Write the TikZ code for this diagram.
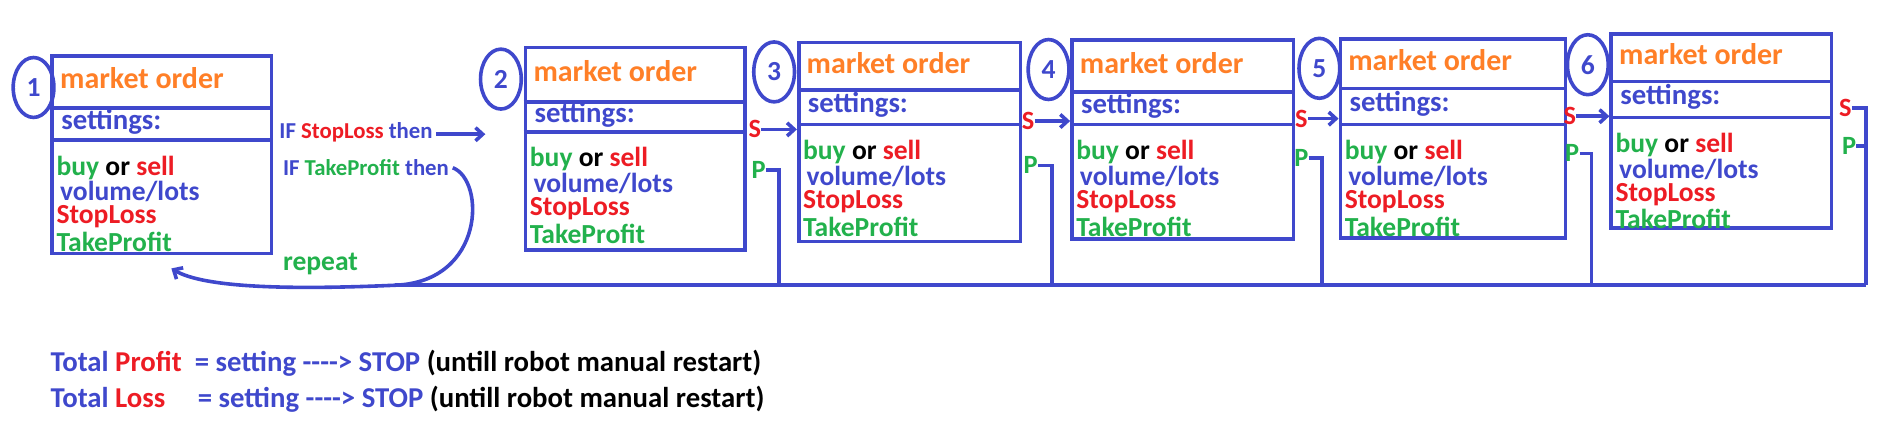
\documentclass[tikz,border=0pt]{standalone}
\usepackage{fontspec}
\setmainfont{Carlito}
\usetikzlibrary{shapes.geometric,arrows.meta,calc}
\definecolor{pblue}{HTML}{3F48CC}
\definecolor{porange}{HTML}{FF7F27}
\definecolor{pred}{HTML}{ED1C24}
\definecolor{pgreen}{HTML}{22B14C}
\newcommand{\arrtxt}{\mbox{-}\mbox{-}\mbox{-}\mbox{-}>}
\begin{document}
\begin{tikzpicture}[x=1pt,y=-1pt,
  line/.style={pblue,line width=3pt},
  box/.style={draw=pblue,line width=3pt,rectangle,inner sep=0pt},
  num/.style={draw=pblue,line width=3pt,ellipse,minimum width=34pt,minimum height=50pt,inner sep=0pt,text=pblue,font=\bfseries\fontsize{23}{26}\selectfont},
  txt/.style={anchor=west,inner sep=0pt,font=\bfseries\fontsize{23}{26}\selectfont},
  small/.style={anchor=west,inner sep=0pt,font=\bfseries\fontsize{19}{22}\selectfont},
  sp/.style={inner sep=0pt,font=\bfseries\fontsize{22}{24}\selectfont},
  arr/.style={line,-{Straight Barb[length=6pt,width=11pt]}}]
\useasboundingbox (0,0) rectangle (1568,368);
\foreach \i/\xa/\xb/\t/\sa/\sb/\bo/\cx/\cy in {
 1/42/225/45/90/117/210/28/73,
 2/437/620/38/85/110/207/418/66,
 3/665/850/34/75/104/200/646/60,
 4/893/1078/32/77/104/198/875/58,
 5/1117/1305/31/74/104/197/1101/57,
 6/1343/1527/27/68/98/189/1325/54}{
  \node[box,anchor=north west,minimum width={(\xb-\xa)*1pt},minimum height={(\bo-\t)*1pt}] (b\i) at (\xa,\t) {};
  \draw[line] (\xa,\sa) -- (\xb,\sa);
  \draw[line] (\xa,\sb) -- (\xb,\sb);
  \node[num] (c\i) at (\cx,\cy) {\i};
  \node[txt,text=porange,font=\bfseries\fontsize{25}{28}\selectfont] (mo\i) at (\xa+8,{(\t+\sa)/2-2}) {market order};
  \node[txt,text=pblue,font=\bfseries\fontsize{24}{28}\selectfont] (se\i) at (\xa+9,{(\sa+\sb)/2-2}) {settings:};
  \node[txt] (bs\i) at (\xa+5,\sb+23) {\textcolor{pgreen}{buy} or \textcolor{pred}{sell}};
  \node[txt,text=pblue] (vl\i) at (\xa+8,\sb+43) {volume/lots};
  \node[txt,text=pred] (sl\i) at (\xa+5,\sb+64) {StopLoss};
  \node[txt,text=pgreen] (tp\i) at (\xa+5,\sb+85) {TakeProfit};
}
% S / P markers
\foreach \i/\sx/\sy/\px/\py/\dx in {2/630/108/633/142/650, 3/858/101/860/138/878, 4/1086/99/1086/132/1103, 5/1310/97/1312/128/1328, 6/1540/90/1543/122/1557}{
  \node[sp,text=pred] (S\i) at (\sx,\sy) {S};
  \node[sp,text=pgreen] (P\i) at (\px,\py) {P};
  \coordinate (pd\i) at (\dx,238);
}
\foreach \i/\j in {2/3,3/4,4/5,5/6}{
  \draw[arr] (S\i.east) -- (S\i.east -| b\j.west);
  \draw[line] (P\i.east) -- (P\i.east -| pd\i) -- (pd\i);
}
\draw[line] (S6.east) -- (S6.east -| pd6) -- (pd6);
\draw[line] (P6.east) -- (P6.east -| pd6);
% box 1 labels
\node[small] (ifs) at (233,110) {\textcolor{pblue}{IF} \textcolor{pred}{StopLoss} \textcolor{pblue}{then}};
\coordinate (ifend) at (405,112);
\draw[arr] ([xshift=3pt]ifs.east |- ifend) -- (ifend);
\node[small] (ift) at (236,140) {\textcolor{pblue}{IF} \textcolor{pgreen}{TakeProfit} \textcolor{pblue}{then}};
\node[txt,text=pgreen] (rep) at (236,220) {repeat};
\coordinate (lj) at (330,238);
\draw[line] (lj) -- (pd6);
\draw[line] ([xshift=3pt]ift.east) .. controls (405,150) and (405,235) .. (lj);
\draw[arr] (lj) .. controls (240,242) and (170,240) .. (143,224);
% totals
\node[anchor=west,inner sep=0pt,font=\bfseries\fontsize{24}{28}\selectfont] (tot1) at (42,303) {\textcolor{pblue}{Total} \textcolor{pred}{Profit}\ \ \textcolor{pblue}{= setting \arrtxt{} STOP} (untill robot manual restart)};
\node[anchor=west,inner sep=0pt,font=\bfseries\fontsize{24}{28}\selectfont] (tot2) at (42,333) {\textcolor{pblue}{Total} \textcolor{pred}{Loss}\ \ \ \ \ \textcolor{pblue}{= setting \arrtxt{} STOP} (untill robot manual restart)};
\end{tikzpicture}
\end{document}
